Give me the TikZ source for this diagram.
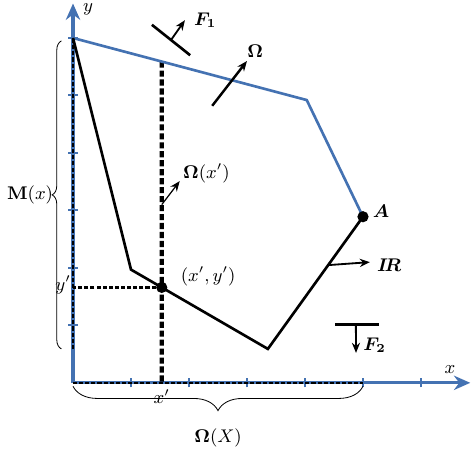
\documentclass[tikz,border=0pt]{standalone}
\usepackage{amsmath}
\usepackage{xcolor}
\usepackage{tikz}
\usetikzlibrary{arrows.meta,calc,positioning,decorations.pathreplacing}
\definecolor{axisblue}{RGB}{68,114,178}

\begin{document}
\begin{tikzpicture}[
    x=1cm, y=0.991cm,
    % GLOBAL CFG
    font=\small,
    >=Stealth,
    % Styles
    axisline/.style={% For the two axes
        -{Stealth[length=8pt,width=7pt]},
        draw=axisblue,
        line width=1.5pt,
        },
    axtick/.style={% For the marks on the axes
        draw=axisblue,
        line width=1pt,
        },
    frontline/.style={% For the blue boundary
        draw=axisblue,
        line width=1.3pt,
        line join=miter,
        },
    regionline/.style={% For the black boundary
        draw,
        line width=1.3pt,
        },
    heavydash/.style={% For the vertical cut
        line width=2pt,
        dash pattern=on 3pt off 1.4pt,
        },
    lightdash/.style={% For projections on the axes
        line width=1.3pt,
        dash pattern=on 2pt off 1pt,
        },
    ptr/.style={% For the pointers to labels
        -{Stealth[length=5pt,width=4pt]},
        line width=0.9pt,
        },
    bar/.style={% For the F bars
        line width=1.3pt,
        },
    pnt/.style={% For the marked points
        circle,
        fill,
        inner sep=0pt,
        minimum size=5.5pt,
        },
    brc/.style={% For the braces
        decorate,
        thin,
        },
    ]

    \useasboundingbox (-1.259,-1.183) rectangle (6.914,6.661);

    % Points of the picture
    \coordinate (O) at (0,0);
    \coordinate (top) at (0,6);
    \coordinate (bend) at (4.03,4.92);
    \coordinate (A) at (5,2.89);
    \coordinate (k1) at (1,1.97);
    \coordinate (k2) at (3.36,0.59);
    \coordinate (P) at ($(k1)!0.2246!(k2)$);
    \coordinate (cut) at (1.53,5.59);
    \coordinate (xend) at (6.85,0);
    \coordinate (yend) at (0,6.6);

    % Axes
    \draw [axisline] (O) -- (xend);
    \draw [axisline] (O) -- (yend);
    \foreach \k in {1,...,6}{
        \draw [axtick] (\k,-0.08) -- (\k,0.08);
        \draw [axtick] (-0.08,\k) -- (0.08,\k);
    }

    % Projections
    \draw [lightdash] (O) -- (5,0);
    \draw [lightdash, line width=0.8pt] (0,0.59) -- (top);
    \draw [lightdash] (P) -- (O |- P);
    \draw [heavydash] (cut) -- (P |- O);

    % Boundaries
    \draw [frontline] (top) -- (bend) -- (A);
    \draw [regionline, line join=miter] (top) -- (k1) -- (k2) -- (A);

    % Points
    \node [pnt] (pA) at (A) {};
    \node [pnt] (pP) at (P) {};

    % Labels
    \node (ly) at (0.26,6.49) {$y$};
    \node (lx) at (6.5,0.23) {$x$};
    \node (lxp) at (1.53,-0.24) {$x'$};
    \node (lyp) at (-0.17,1.7) {$y'$};
    \node (lP) at (2.33,1.85) {$(x',y')$};
    \node (lA) at (5.31,2.98) {$\boldsymbol{A}$};
    \node (lOmx) at (2.3,3.65) {$\boldsymbol{\Omega}(x')$};
    \node (lOm) at (3.14,5.77) {$\boldsymbol{\Omega}$};
    \node (lIR) at (5.45,2.05) {$\boldsymbol{I\!R}$};
    \node (lF1) at (2.28,6.31) {$\boldsymbol{F_1}$};
    \node (lF2) at (5.2,0.66) {$\boldsymbol{F_2}$};
    \node (lM) at (-0.74,3.27) {$\mathbf{M}(x)$};
    \node (lOX) at (2.5,-0.96) {$\boldsymbol{\Omega}(X)$};

    % Pointers
    \coordinate (t1) at (1.53,3.10);
    \coordinate (h1) at (1.84,3.51);
    \draw [ptr, line width=0.6pt] (t1) -- (h1);
    \coordinate (t2) at (2.40,4.82);
    \coordinate (h2) at (3.0,5.6);
    \draw [ptr, line width=1.2pt] (t2) -- (h2);
    \coordinate (t3) at ($(k2)!0.634!(A)$);
    \coordinate (h3) at (5.12,2.10);
    \draw [ptr] (t3) -- (h3);

    % F bars
    \coordinate (f1a) at (1.36,6.23);
    \coordinate (f1b) at (2.02,5.70);
    \draw [bar] (f1a) -- (f1b);
    \coordinate (f1h) at (1.93,6.31);
    \draw [ptr] ($(f1a)!0.5!(f1b)$) -- (f1h);
    \coordinate (f2a) at (4.52,1.01);
    \coordinate (f2b) at (5.28,1.01);
    \draw [bar, line width=1.6pt] (f2a) -- (f2b);
    \coordinate (f2h) at (4.88,0.52);
    \draw [ptr] ($(f2a)!0.47!(f2b)$) -- (f2h);

    % Braces
    \draw [brc, decoration={brace, amplitude=0.16cm}] (-0.2,0.59) -- (-0.2,5.95);
    \draw [brc, decoration={brace, mirror, amplitude=0.42cm}] (0,-0.06) -- (5,-0.06);

\end{tikzpicture}
\end{document}
